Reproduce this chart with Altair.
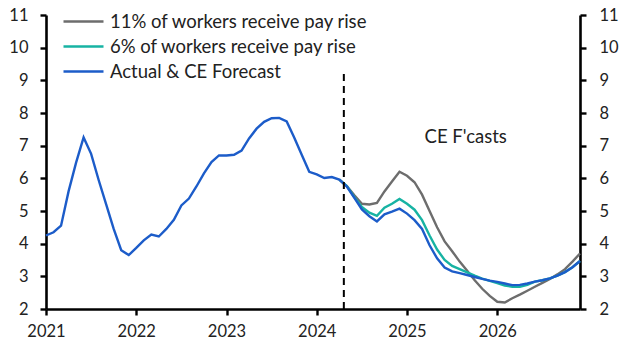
import altair as alt
import pandas as pd

# Monthly values, Jan 2021 - Dec 2026
actual = [
    4.25, 4.35, 4.55, 5.6, 6.48, 7.25, 6.75, 5.95, 5.2, 4.45, 3.8, 3.65,   # 2021
    3.87, 4.1, 4.28, 4.22, 4.45, 4.73, 5.17, 5.38, 5.75, 6.15, 6.5, 6.7,  # 2022
    6.7, 6.72, 6.85, 7.22, 7.52, 7.73, 7.84, 7.85, 7.74, 7.25, 6.72, 6.2, # 2023
    6.12, 6.01, 6.04, 5.96, 5.75, 5.4, 5.05, 4.84, 4.68, 4.9, 4.98, 5.07, # 2024
    4.92, 4.72, 4.45, 3.95, 3.55, 3.27, 3.15, 3.1, 3.04, 2.98, 2.92, 2.87, # 2025
    2.83, 2.78, 2.73, 2.74, 2.78, 2.84, 2.88, 2.94, 3.02, 3.13, 3.28, 3.47, # 2026
]
# Scenarios, Apr 2024 - Dec 2026
pay11 = [
    5.96, 5.76, 5.48, 5.22, 5.2, 5.25, 5.6, 5.9, 6.2,
    6.08, 5.88, 5.5, 5.0, 4.5, 4.07, 3.77, 3.45, 3.17, 2.88, 2.62, 2.4,
    2.22, 2.2, 2.33, 2.44, 2.56, 2.68, 2.8, 2.92, 3.06, 3.22, 3.45, 3.7,
]
pay6 = [
    5.96, 5.76, 5.42, 5.12, 4.95, 4.85, 5.1, 5.22, 5.37,
    5.22, 5.04, 4.72, 4.25, 3.82, 3.5, 3.32, 3.22, 3.12, 3.02, 2.93, 2.86,
    2.79, 2.72, 2.68, 2.68, 2.74, 2.84, 2.88, 2.94, 3.02, 3.13, 3.28, 3.47,
]
series_names = ["11% of workers receive pay rise", "6% of workers receive pay rise", "Actual & CE Forecast"]
series_colors = ["#6d6d6d", "#17b3a3", "#1c5cc9"]
year_ticks = [2021, 2022, 2023, 2024, 2025, 2026]
y_ticks = [2, 3, 4, 5, 6, 7, 8, 9, 10, 11]
forecast_start = 2024.3
annotation = "CE F'casts"

start_actual = 2021.0
start_scen = 2024 + 3 / 12

rows = []
for i, v in enumerate(pay11):
    rows.append({"t": start_scen + i / 12, "v": v, "s": series_names[0], "o": 0})
for i, v in enumerate(pay6):
    rows.append({"t": start_scen + i / 12, "v": v, "s": series_names[1], "o": 1})
for i, v in enumerate(actual):
    rows.append({"t": start_actual + i / 12, "v": v, "s": series_names[2], "o": 2})
df = pd.DataFrame(rows)

FONT = "Lato"
AXFS = 16.5
xscale = alt.Scale(domain=[2021, 2026 + 11 / 12], nice=False, zero=False)
yscale = alt.Scale(domain=[2, 11], nice=False, zero=False)

xaxis = alt.Axis(values=year_ticks, format="d", title=None, labelPadding=8, labelFlush=False)
yaxis_left = alt.Axis(values=y_ticks, title=None, orient="left", labelPadding=12)

lines = alt.Chart(df).mark_line(strokeWidth=2.4).encode(
    x=alt.X("t:Q", scale=xscale, axis=xaxis),
    y=alt.Y("v:Q", scale=yscale, axis=yaxis_left),
    color=alt.Color(
        "s:N",
        scale=alt.Scale(domain=series_names, range=series_colors),
        sort=series_names,
        legend=alt.Legend(
            title=None, orient="none", legendX=26, legendY=-5,
            symbolType="M-2,0H2", symbolSize=400, symbolStrokeWidth=2.4,
            symbolFillColor="transparent",
            labelFontSize=18.5, labelFont=FONT, labelColor="#222222",
            labelOffset=15, rowPadding=4, padding=0, labelLimit=400,
        ),
    ),
    order=alt.Order("o:Q"),
)

rule_df = pd.DataFrame({"t": [forecast_start], "y1": [2.0], "y2": [9.2]})
rule = alt.Chart(rule_df).mark_rule(color="black", strokeWidth=2, strokeDash=[7, 5]).encode(
    x=alt.X("t:Q", scale=xscale, axis=xaxis),
    y=alt.Y("y1:Q", scale=yscale, axis=yaxis_left),
    y2="y2:Q",
)

text_df = pd.DataFrame({"t": [2025.65], "v": [7.28], "label": [annotation]})
text = alt.Chart(text_df).mark_text(fontSize=18.5, font=FONT, color="#222222").encode(
    x=alt.X("t:Q", scale=xscale, axis=xaxis),
    y=alt.Y("v:Q", scale=yscale, axis=yaxis_left),
    text="label:N",
)

left = alt.layer(lines, rule, text)

right = alt.Chart(pd.DataFrame({"t": [2021.0], "v": [2.0]})).mark_point(opacity=0).encode(
    x=alt.X("t:Q", scale=xscale, axis=xaxis),
    y=alt.Y("v:Q", scale=yscale, axis=alt.Axis(values=y_ticks, title=None, orient="right", labelPadding=13)),
)

chart = alt.layer(left, right).resolve_scale(y="independent").properties(
    width=534, height=294,
    background="white",
    autosize=alt.AutoSizeParams(type="none"),
    padding={"left": 46, "top": 15, "right": 48, "bottom": 44},
).configure_view(stroke=None).configure_axis(
    grid=False, domainColor="black", domainWidth=2.6, tickColor="black", tickWidth=2.4,
    tickSize=6, labelFontSize=AXFS, labelFont=FONT, labelColor="#222222",
)

chart.save("out.html", embed_options={"renderer": "svg", "actions": False})
